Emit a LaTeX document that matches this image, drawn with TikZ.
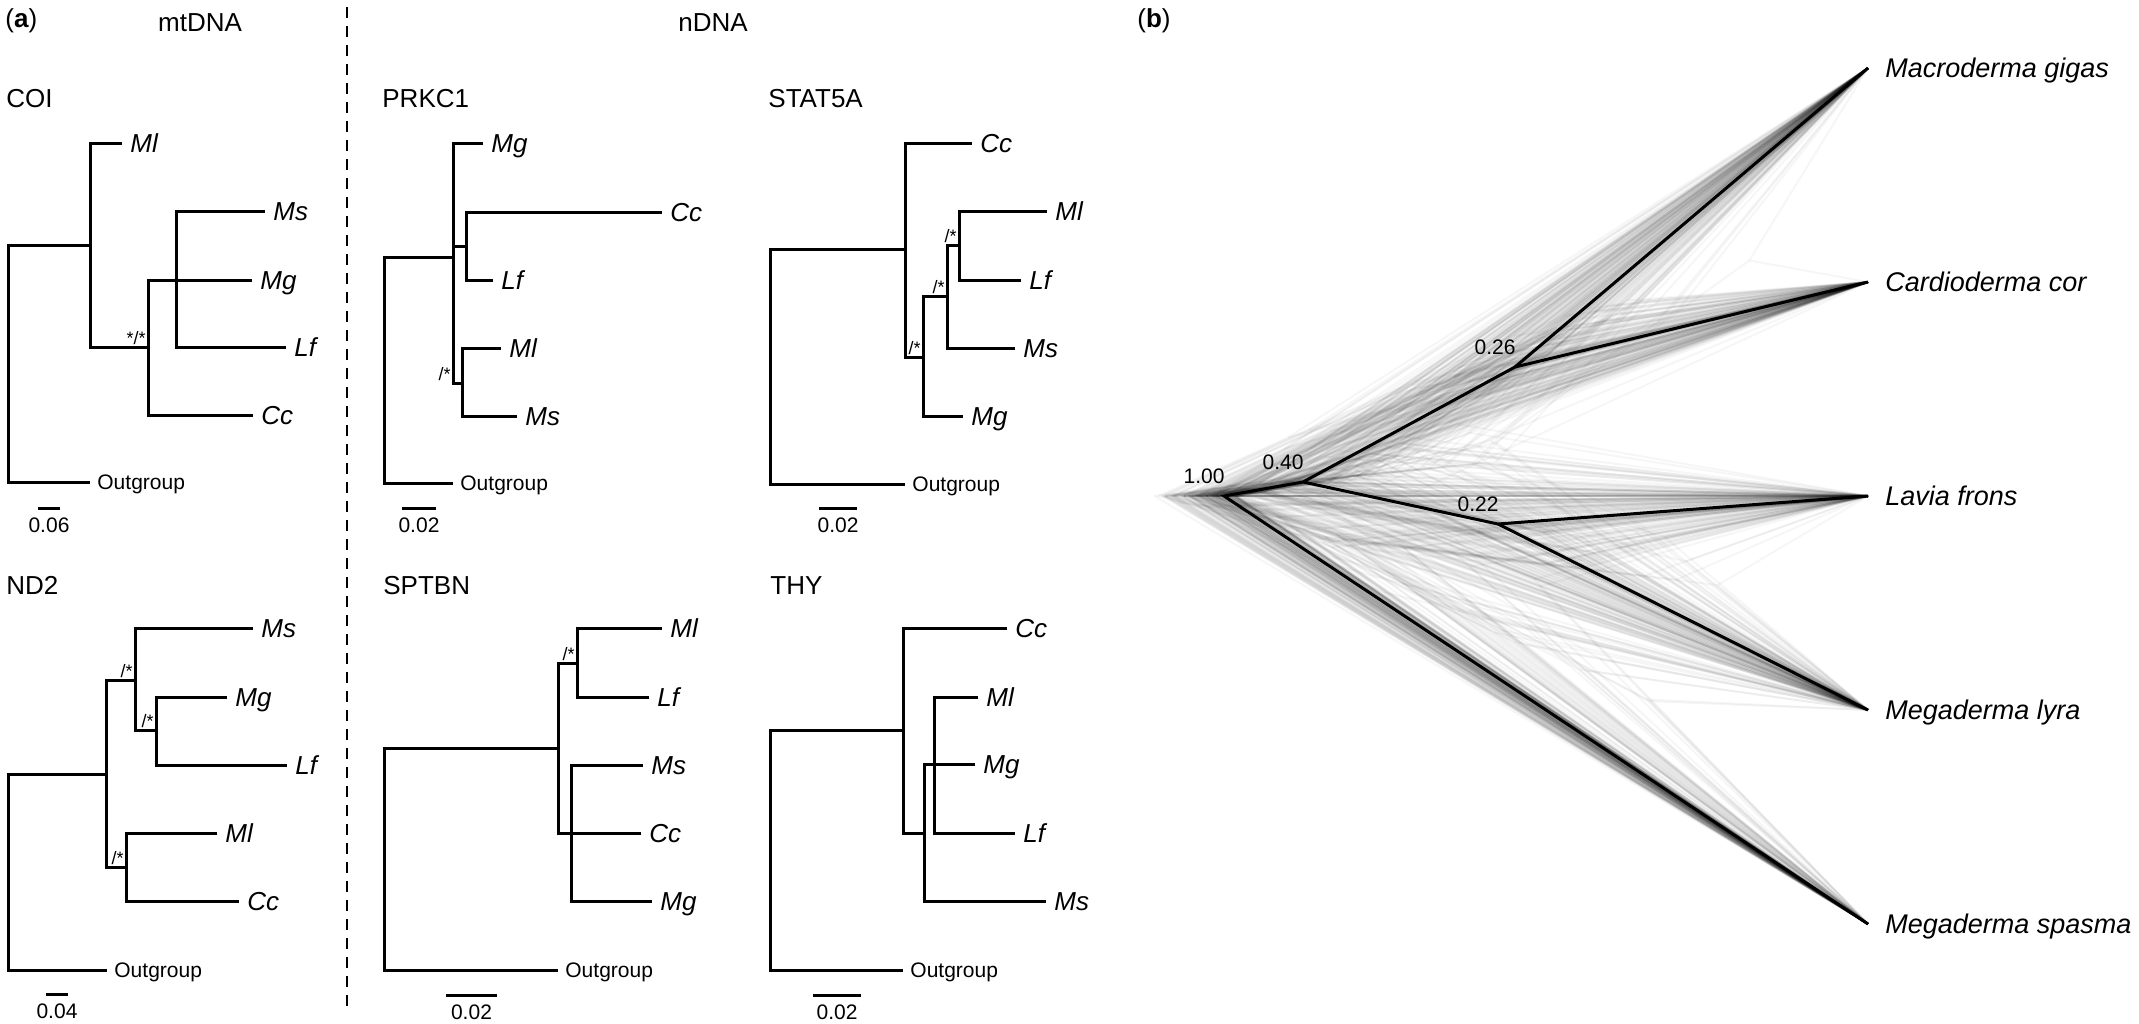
\documentclass[tikz,border=0pt]{standalone}
\usepackage{fontspec}
\setmainfont{Liberation Sans}

% one line of the tree cloud: parent -> new inner node, placed towards the clade mean
\newcommand\dtjoin[4]{%
  \edef\dtpx{\csname dt#2x\endcsname}\edef\dtpy{\csname dt#2y\endcsname}%
  \pgfmathsetmacro\dtx{\dtpx+#4}%
  \pgfmathsetmacro\dtf{(\dtx-\dtpx)/(1868-\dtpx)}%
  \pgfmathsetmacro\dty{\dtpy+(#3-\dtpy)*\dtf}%
  \draw[cloud] (\dtpx,\dtpy) -- (\dtx,\dty);%
  \expandafter\let\csname dt#1x\endcsname\dtx
  \expandafter\let\csname dt#1y\endcsname\dty}
\newcommand\dtleaf[2]{%
  \edef\dtpx{\csname dt#1x\endcsname}\edef\dtpy{\csname dt#1y\endcsname}%
  \draw[cloud] (\dtpx,\dtpy) -- (#2.west);}

% topologies of the sampled trees
\newcommand\topoA{% (((Mg,Cc),(Lf,Ml)),Ms)
  \dtjoin{A}{r}{389}{20+110*rnd}\dtleaf{r}{mspa}%
  \dtjoin{B}{A}{175}{60+300*rnd}\dtleaf{B}{mgig}\dtleaf{B}{ccor}%
  \dtjoin{C}{A}{603}{60+300*rnd}\dtleaf{C}{lfro}\dtleaf{C}{mlyr}}
\newcommand\topoB{% ((Mg,Cc),((Lf,Ml),Ms))
  \dtjoin{B}{r}{175}{100+300*rnd}\dtleaf{B}{mgig}\dtleaf{B}{ccor}%
  \dtjoin{A}{r}{710}{20+150*rnd}\dtleaf{A}{mspa}%
  \dtjoin{C}{A}{603}{60+300*rnd}\dtleaf{C}{lfro}\dtleaf{C}{mlyr}}
\newcommand\topoC{% ((((Mg,Cc),Ml),Lf),Ms)
  \dtjoin{A}{r}{389}{20+110*rnd}\dtleaf{r}{mspa}\dtleaf{A}{lfro}%
  \dtjoin{D}{A}{353}{20+150*rnd}\dtleaf{D}{mlyr}%
  \dtjoin{B}{D}{175}{40+250*rnd}\dtleaf{B}{mgig}\dtleaf{B}{ccor}}
\newcommand\topoD{% ((((Mg,Cc),Lf),Ml),Ms)
  \dtjoin{A}{r}{389}{20+110*rnd}\dtleaf{r}{mspa}\dtleaf{A}{mlyr}%
  \dtjoin{D}{A}{282}{20+150*rnd}\dtleaf{D}{lfro}%
  \dtjoin{B}{D}{175}{40+250*rnd}\dtleaf{B}{mgig}\dtleaf{B}{ccor}}
\newcommand\topoE{% (((Mg,(Lf,Ml)),Cc),Ms)
  \dtjoin{A}{r}{389}{20+110*rnd}\dtleaf{r}{mspa}\dtleaf{A}{ccor}%
  \dtjoin{D}{A}{425}{20+150*rnd}\dtleaf{D}{mgig}%
  \dtjoin{C}{D}{603}{40+250*rnd}\dtleaf{C}{lfro}\dtleaf{C}{mlyr}}
\newcommand\topoF{% (((Cc,(Lf,Ml)),Mg),Ms)
  \dtjoin{A}{r}{389}{20+110*rnd}\dtleaf{r}{mspa}\dtleaf{A}{mgig}%
  \dtjoin{D}{A}{496}{20+150*rnd}\dtleaf{D}{ccor}%
  \dtjoin{C}{D}{603}{40+250*rnd}\dtleaf{C}{lfro}\dtleaf{C}{mlyr}}
\newcommand\topoG{% (((Mg,Cc),(Lf,Ms)),Ml)
  \dtjoin{A}{r}{442.5}{20+110*rnd}\dtleaf{r}{mlyr}%
  \dtjoin{B}{A}{175}{60+300*rnd}\dtleaf{B}{mgig}\dtleaf{B}{ccor}%
  \dtjoin{C}{A}{710}{60+300*rnd}\dtleaf{C}{lfro}\dtleaf{C}{mspa}}
\newcommand\topoH{% (((Mg,Cc),(Ml,Ms)),Lf)
  \dtjoin{A}{r}{496}{20+110*rnd}\dtleaf{r}{lfro}%
  \dtjoin{B}{A}{175}{60+300*rnd}\dtleaf{B}{mgig}\dtleaf{B}{ccor}%
  \dtjoin{C}{A}{817}{60+300*rnd}\dtleaf{C}{mlyr}\dtleaf{C}{mspa}}
\newcommand\topoI{% ((Mg,Cc),(Lf,(Ml,Ms)))
  \dtjoin{B}{r}{175}{100+300*rnd}\dtleaf{B}{mgig}\dtleaf{B}{ccor}%
  \dtjoin{E}{r}{710}{20+150*rnd}\dtleaf{E}{lfro}%
  \dtjoin{F}{E}{817}{60+300*rnd}\dtleaf{F}{mlyr}\dtleaf{F}{mspa}}

\begin{document}
\begin{tikzpicture}[
  x=0.5pt, y=-0.5pt,
  branch/.style = {line width=1.5pt},
  taxon/.style = {anchor=west, inner xsep=4pt, inner ysep=0pt, text height=9.3pt, text depth=0pt, font=\fontsize{13}{15}\selectfont\itshape},
  outgroup/.style = {anchor=west, inner xsep=3.5pt, inner ysep=0pt, text height=7.5pt, text depth=0pt, font=\fontsize{10.5}{12}\selectfont},
  gene/.style = {anchor=west, inner sep=0pt, text height=9.3pt, text depth=0pt, font=\fontsize{13}{15}\selectfont},
  head/.style = {inner sep=0pt, text height=9.3pt, text depth=0pt, font=\fontsize{13}{15}\selectfont},
  support/.style = {above left, inner sep=1pt, font=\fontsize{9}{10}\selectfont},
  scalebar/.style = {line width=1.5pt},
  barlabel/.style = {below=4pt, inner sep=0pt, text height=7.5pt, text depth=0pt, font=\fontsize{10.5}{12}\selectfont},
  divider/.style = {line width=1pt, dash pattern=on 5.5pt off 4pt},
  cloud/.style = {line width=1pt, black, opacity=0.035},
  consensus/.style = {line width=1.5pt, black},
  species/.style = {anchor=west, inner xsep=8.5pt, inner ysep=0pt, text height=9.7pt, text depth=0pt, font=\fontsize{13.5}{16}\selectfont\itshape},
  clade/.style = {xshift=-10pt, yshift=10pt, inner sep=0pt, font=\fontsize{10.5}{12}\selectfont}
  ]
  \useasboundingbox (0,0) rectangle (2139,1023);

  % headings
  \node[gene] (pa) at (5,18) {(\textbf{a})};
  \node[head] (mt) at (200,22) {mtDNA};
  \node[head] (nd) at (713,22) {nDNA};
  \node[gene] (pb) at (1137,18) {(\textbf{b})};
  \coordinate (dtop) at (347,7);
  \coordinate (dbot) at (347,1008);
  \draw[divider] (dtop) -- (dbot);

  % COI
  \node[gene] (coi) at (6,98) {COI};
  \coordinate (coi-r) at (8,245);
  \coordinate (coi-a) at (90,245);
  \coordinate (coi-b) at (148,347);
  \coordinate (coi-d) at (176,280);
  \node[taxon] (coi-ml) at (122,143) {Ml};
  \node[taxon] (coi-ms) at (265,211) {Ms};
  \node[taxon] (coi-mg) at (252,280) {Mg};
  \node[taxon] (coi-lf) at (286,347) {Lf};
  \node[taxon] (coi-cc) at (253,415) {Cc};
  \node[outgroup] (coi-out) at (90,482) {Outgroup};
  \draw[branch] (coi-ml.west) -| (coi-a) |- (coi-b);
  \draw[branch] (coi-mg.west) -| (coi-b) |- (coi-cc.west);
  \draw[branch] (coi-ms.west) -| (coi-d) |- (coi-lf.west);
  \draw[branch] (coi-a) -| (coi-r) |- (coi-out.west);
  \node[support] (coi-s1) at (coi-b) {*/*};
  \draw[scalebar] (38,508) -- node[barlabel] (coi-sb) {0.06} (60,508);

  % ND2
  \node[gene] (nd2) at (6,585) {ND2};
  \coordinate (nd-r) at (8,774);
  \coordinate (nd-a) at (106,774);
  \coordinate (nd-b) at (135,680);
  \coordinate (nd-c) at (126,867);
  \coordinate (nd-d) at (156,730);
  \node[taxon] (nd-ms) at (253,628) {Ms};
  \node[taxon] (nd-mg) at (227,697) {Mg};
  \node[taxon] (nd-lf) at (287,765) {Lf};
  \node[taxon] (nd-ml) at (217,833) {Ml};
  \node[taxon] (nd-cc) at (239,901) {Cc};
  \node[outgroup] (nd-out) at (107,970) {Outgroup};
  \draw[branch] (nd-b) -| (nd-a) |- (nd-c);
  \draw[branch] (nd-ms.west) -| (nd-b) |- (nd-d);
  \draw[branch] (nd-mg.west) -| (nd-d) |- (nd-lf.west);
  \draw[branch] (nd-ml.west) -| (nd-c) |- (nd-cc.west);
  \draw[branch] (nd-a) -| (nd-r) |- (nd-out.west);
  \node[support] (nd-s1) at (nd-b) {/*};
  \node[support] (nd-s2) at (nd-d) {/*};
  \node[support] (nd-s3) at (nd-c) {/*};
  \draw[scalebar] (46,994) -- node[barlabel] (nd-sb) {0.04} (68,994);

  % PRKC1
  \node[gene] (prkc) at (382,98) {PRKC1};
  \coordinate (pk-r) at (384,257);
  \coordinate (pk-a) at (453,257);
  \coordinate (pk-e) at (466,246);
  \coordinate (pk-f) at (462,383);
  \node[taxon] (pk-mg) at (483,143) {Mg};
  \node[taxon] (pk-cc) at (662,212) {Cc};
  \node[taxon] (pk-lf) at (493,280) {Lf};
  \node[taxon] (pk-ml) at (501,348) {Ml};
  \node[taxon] (pk-ms) at (517,416) {Ms};
  \node[outgroup] (pk-out) at (453,483) {Outgroup};
  \draw[branch] (pk-mg.west) -| (pk-a) |- (pk-f);
  \draw[branch] (pk-a) |- (pk-e);
  \draw[branch] (pk-cc.west) -| (pk-e) |- (pk-lf.west);
  \draw[branch] (pk-ml.west) -| (pk-f) |- (pk-ms.west);
  \draw[branch] (pk-a) -| (pk-r) |- (pk-out.west);
  \node[support] (pk-s1) at (pk-a |- pk-f) {/*};
  \draw[scalebar] (402,508) -- node[barlabel] (pk-sb) {0.02} (436,508);

  % STAT5A
  \node[gene] (stat) at (768,98) {STAT5A};
  \coordinate (st-r) at (770,249);
  \coordinate (st-a) at (905,249);
  \coordinate (st-b) at (923,357);
  \coordinate (st-c) at (947,296);
  \coordinate (st-d) at (959,245);
  \node[taxon] (st-cc) at (972,143) {Cc};
  \node[taxon] (st-ml) at (1047,211) {Ml};
  \node[taxon] (st-lf) at (1021,280) {Lf};
  \node[taxon] (st-ms) at (1015,348) {Ms};
  \node[taxon] (st-mg) at (963,416) {Mg};
  \node[outgroup] (st-out) at (905,484) {Outgroup};
  \draw[branch] (st-cc.west) -| (st-a) |- (st-b);
  \draw[branch] (st-c) -| (st-b) |- (st-mg.west);
  \draw[branch] (st-d) -| (st-c) |- (st-ms.west);
  \draw[branch] (st-ml.west) -| (st-d) |- (st-lf.west);
  \draw[branch] (st-a) -| (st-r) |- (st-out.west);
  \node[support] (st-s1) at (st-b) {/*};
  \node[support] (st-s2) at (st-c) {/*};
  \node[support] (st-s3) at (st-d) {/*};
  \draw[scalebar] (819,508) -- node[barlabel] (st-sb) {0.02} (857,508);

  % SPTBN
  \node[gene] (sptbn) at (383,585) {SPTBN};
  \coordinate (sp-r) at (384,748);
  \coordinate (sp-a) at (558,748);
  \coordinate (sp-b) at (577,663);
  \coordinate (sp-c) at (571,833);
  \node[taxon] (sp-ml) at (662,628) {Ml};
  \node[taxon] (sp-lf) at (649,697) {Lf};
  \node[taxon] (sp-ms) at (643,765) {Ms};
  \node[taxon] (sp-cc) at (641,833) {Cc};
  \node[taxon] (sp-mg) at (652,901) {Mg};
  \node[outgroup] (sp-out) at (558,970) {Outgroup};
  \draw[branch] (sp-b) -| (sp-a) |- (sp-cc.west);
  \draw[branch] (sp-ml.west) -| (sp-b) |- (sp-lf.west);
  \draw[branch] (sp-ms.west) -| (sp-c) |- (sp-mg.west);
  \draw[branch] (sp-a) -| (sp-r) |- (sp-out.west);
  \node[support] (sp-s1) at (sp-b) {/*};
  \draw[scalebar] (446,995) -- node[barlabel] (sp-sb) {0.02} (497,995);

  % THY
  \node[gene] (thy) at (770,585) {THY};
  \coordinate (th-r) at (770,730);
  \coordinate (th-a) at (903,730);
  \coordinate (th-b) at (924,833);
  \coordinate (th-c) at (934,764);
  \node[taxon] (th-cc) at (1007,628) {Cc};
  \node[taxon] (th-ml) at (978,697) {Ml};
  \node[taxon] (th-mg) at (975,764) {Mg};
  \node[taxon] (th-lf) at (1015,833) {Lf};
  \node[taxon] (th-ms) at (1046,901) {Ms};
  \node[outgroup] (th-out) at (903,970) {Outgroup};
  \draw[branch] (th-cc.west) -| (th-a) |- (th-b);
  \draw[branch] (th-mg.west) -| (th-b) |- (th-ms.west);
  \draw[branch] (th-ml.west) -| (th-c) |- (th-lf.west);
  \draw[branch] (th-a) -| (th-r) |- (th-out.west);
  \draw[scalebar] (813,995) -- node[barlabel] (th-sb) {0.02} (861,995);

  % (b) species tree cloud
  \node[species] (mgig) at (1868,68) {Macroderma gigas};
  \node[species] (ccor) at (1868,282) {Cardioderma cor};
  \node[species] (lfro) at (1868,496) {Lavia frons};
  \node[species] (mlyr) at (1868,710) {Megaderma lyra};
  \node[species] (mspa) at (1868,924) {Megaderma spasma};

  \pgfmathsetseed{11}
  \foreach \i in {1,...,180}{
    \pgfmathsetmacro\dtrx{1152+85*sqrt(rnd)}
    \def\dtry{496}
    \pgfmathrandominteger\k{1}{20}
    \ifnum\k<7 \topoA\else\ifnum\k<10 \topoB\else\ifnum\k<12 \topoC\else
    \ifnum\k<14 \topoD\else\ifnum\k<16 \topoE\else\ifnum\k<17 \topoF\else
    \ifnum\k<18 \topoG\else\ifnum\k<19 \topoH\else \topoI
    \fi\fi\fi\fi\fi\fi\fi\fi
  }

  % consensus tree
  \coordinate (n100) at (1224,496);
  \coordinate (n040) at (1303,482);
  \coordinate (n026) at (1515,367);
  \coordinate (n022) at (1498,524);
  \draw[consensus] (mspa.west) -- (n100) -- (n040) -- (n026) -- (mgig.west);
  \draw[consensus] (n026) -- (ccor.west);
  \draw[consensus] (n040) -- (n022) -- (lfro.west);
  \draw[consensus] (n022) -- (mlyr.west);
  \node[clade] (l100) at (n100) {1.00};
  \node[clade] (l040) at (n040) {0.40};
  \node[clade] (l026) at (n026) {0.26};
  \node[clade] (l022) at (n022) {0.22};
\end{tikzpicture}
\end{document}
